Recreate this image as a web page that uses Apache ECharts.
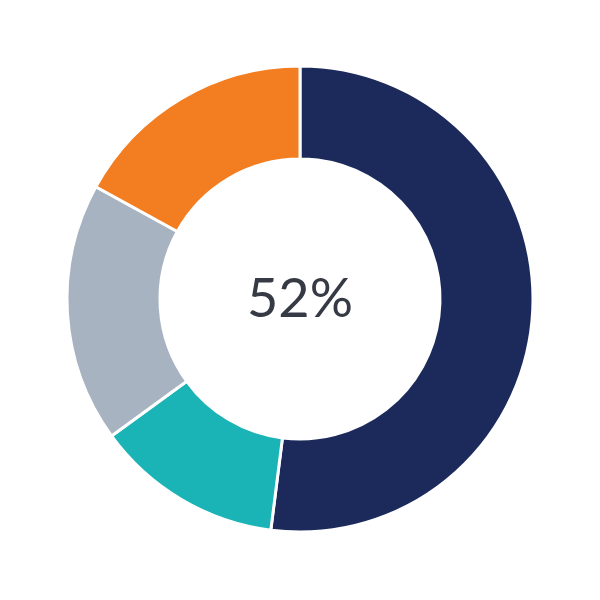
<!DOCTYPE html>
<html>
<head>
<meta charset="utf-8">
<script src="https://cdn.jsdelivr.net/npm/echarts@6/dist/echarts.min.js"></script>
<style>
  html, body { margin: 0; padding: 0; background: #fff; }
  #chart { width: 600px; height: 600px; }
</style>
</head>
<body>
<div id="chart"></div>
<script>
// 数据
const names = ['A', 'B', 'C', 'D'];
const values = [52, 13, 18, 17];
const colors = ['#1b2a5b', '#1ab4b7', '#a8b3c2', '#f37e21'];
const centerLabel = '52%';

const chart = echarts.init(document.getElementById('chart'));

const option = {
  backgroundColor: '#fff',
  animation: false,
  title: {
    text: centerLabel,
    left: 'center',
    top: 'middle',
    textStyle: {
      fontFamily: 'Lato',
      fontWeight: 400,
      fontSize: 54,
      color: '#353a45'
    }
  },
  series: [
    {
      type: 'pie',
      center: [300, 299],
      radius: [140, 233],
      startAngle: 90,
      clockwise: true,
      label: { show: false },
      labelLine: { show: false },
      itemStyle: {
        borderColor: '#fff',
        borderWidth: 3
      },
      data: values.map((v, i) => ({
        name: names[i],
        value: v,
        itemStyle: { color: colors[i] }
      }))
    }
  ]
};

chart.setOption(option);
</script>
</body>
</html>
